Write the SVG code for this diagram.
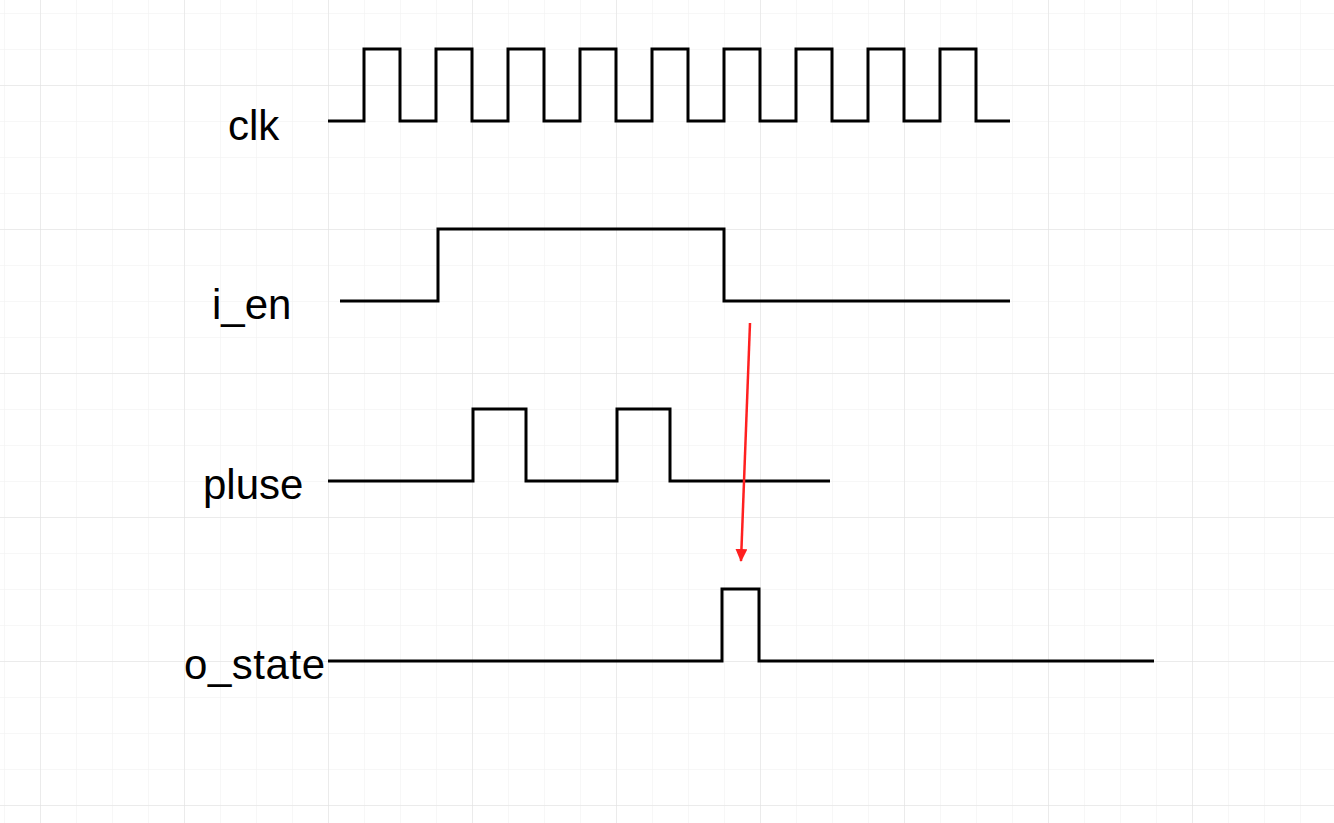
<svg xmlns="http://www.w3.org/2000/svg" width="1334" height="823" viewBox="0 0 1334 823">
<defs>
<pattern id="minor" width="36" height="36" patternUnits="userSpaceOnUse" x="4" y="13"><path d="M0 0H36M0 0V36" fill="none" stroke="#f0f0f0" stroke-width="1"/></pattern>
<pattern id="major" width="144" height="144" patternUnits="userSpaceOnUse" x="40" y="85"><path d="M0 0H144M0 0V144" fill="none" stroke="#e0e0e0" stroke-width="1"/></pattern>
<marker id="ah" markerWidth="14" markerHeight="12" refX="12" refY="6" orient="auto" markerUnits="userSpaceOnUse"><path d="M0 0L13 6L0 12Z" fill="#ff2020"/></marker>
</defs>
<style>.w{fill:none;stroke:#000;stroke-width:3}.t{font-family:"Liberation Sans",Arial,sans-serif;font-size:42px;fill:#000}</style>
<rect width="1334" height="823" fill="#fff"/>
<rect width="1334" height="823" fill="url(#minor)"/>
<rect width="1334" height="823" fill="url(#major)"/>
<g id="clk"><text class="t" x="228" y="140">clk</text>
<path class="w" d="M328 121H364V49H400V121H436V49H472V121H508V49H544V121H580V49H616V121H652V49H688V121H724V49H760V121H796V49H832V121H868V49H904V121H940V49H976V121H1010"/></g>
<g id="i_en"><text class="t" x="212" y="319">i_en</text>
<path class="w" d="M340 301H438V229H724V301H1010"/></g>
<g id="pluse"><text class="t" x="203" y="499">pluse</text>
<path class="w" d="M328 481H473V409H526V481H617V409H670V481H830"/></g>
<g id="o_state"><text class="t" x="184" y="679" textLength="141">o_state</text>
<path class="w" d="M328 661H722V589H759V661H1154"/></g>
<g id="connectors"><line x1="750" y1="323" x2="741" y2="561" stroke="#ff2020" stroke-width="2.5" marker-end="url(#ah)"/></g>
</svg>
